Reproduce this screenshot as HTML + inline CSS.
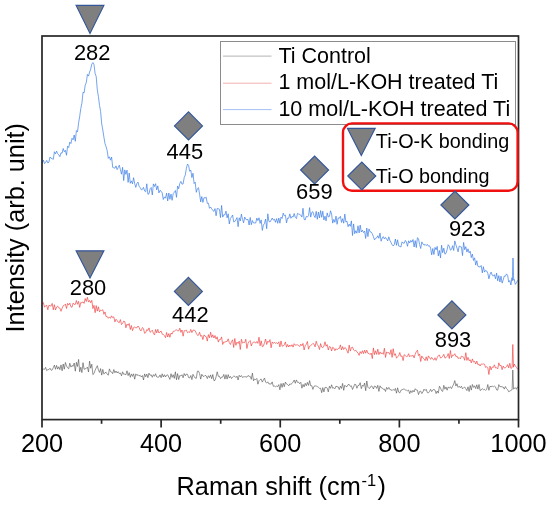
<!DOCTYPE html>
<html><head><meta charset="utf-8"><title>Raman spectra</title>
<style>
html,body{margin:0;padding:0;background:#fff;}
body{width:550px;height:507px;overflow:hidden;}
svg{display:block;font-family:"Liberation Sans",sans-serif;}
</style></head><body>
<svg width="550" height="507" viewBox="0 0 550 507">
<rect width="550" height="507" fill="#fff"/>
<g fill="none" stroke-linejoin="round" stroke-linecap="round">
<path d="M42.3,370.1 L43.4,369.1 L44.5,369.4 L45.6,367.4 L46.7,370.7 L47.8,369.7 L48.9,369.6 L50.0,368.2 L51.1,370.3 L52.2,369.9 L53.3,367.7 L54.4,365.1 L55.5,369.3 L56.6,365.4 L57.7,369.1 L58.8,366.7 L59.9,369.7 L61.0,364.9 L62.1,370.8 L63.2,364.0 L64.3,369.2 L65.4,362.5 L66.5,366.0 L67.6,367.9 L68.7,368.8 L69.8,363.2 L70.9,367.1 L72.0,365.4 L73.1,366.4 L74.2,363.0 L75.3,371.2 L76.4,362.3 L77.5,366.5 L78.6,359.4 L79.7,371.8 L80.8,367.2 L81.9,372.6 L83.0,362.7 L84.1,369.3 L85.2,368.8 L86.3,368.4 L87.4,367.1 L88.5,372.0 L89.6,361.2 L90.7,368.2 L91.8,364.2 L92.9,374.6 L94.0,373.5 L95.1,370.3 L96.2,367.9 L97.3,365.7 L98.4,369.9 L99.5,372.4 L100.6,368.6 L101.7,375.1 L102.8,369.4 L103.9,374.1 L105.0,372.7 L106.1,372.3 L107.2,374.2 L108.3,375.2 L109.4,368.9 L110.5,371.6 L111.6,372.0 L112.7,373.7 L113.8,369.5 L114.9,372.8 L116.0,371.0 L117.1,373.0 L118.2,371.7 L119.3,373.6 L120.4,373.0 L121.5,375.8 L122.6,371.8 L123.7,374.3 L124.8,374.1 L125.9,374.7 L127.0,370.8 L128.1,375.6 L129.2,372.6 L130.3,377.3 L131.4,373.9 L132.5,376.4 L133.6,373.8 L134.7,379.2 L135.8,373.9 L136.9,375.5 L138.0,374.6 L139.1,375.9 L140.2,375.4 L141.3,377.0 L142.4,375.5 L143.5,380.0 L144.6,373.9 L145.7,376.8 L146.8,374.0 L147.9,377.7 L149.0,373.2 L150.1,375.3 L151.2,374.8 L152.3,377.3 L153.4,374.6 L154.5,376.3 L155.6,373.7 L156.7,376.9 L157.8,377.2 L158.9,377.1 L160.0,374.9 L161.1,377.7 L162.2,373.8 L163.3,377.0 L164.4,374.7 L165.5,377.0 L166.6,375.1 L167.7,374.8 L168.8,377.1 L169.9,379.4 L171.0,373.7 L172.1,377.4 L173.2,374.7 L174.3,378.4 L175.4,371.8 L176.5,379.8 L177.6,373.6 L178.7,379.5 L179.8,375.5 L180.9,376.0 L182.0,374.7 L183.1,377.8 L184.2,373.5 L185.3,375.8 L186.4,374.0 L187.5,374.3 L188.6,377.6 L189.7,378.0 L190.8,375.5 L191.9,379.6 L193.0,374.3 L194.1,376.4 L195.2,378.1 L196.3,378.3 L197.4,371.2 L198.5,371.1 L199.6,373.6 L200.7,379.1 L201.8,374.3 L202.9,376.1 L204.0,376.5 L205.1,375.3 L206.2,375.9 L207.3,378.6 L208.4,375.7 L209.5,377.7 L210.6,374.9 L211.7,378.8 L212.8,374.5 L213.9,380.6 L215.0,380.4 L216.1,376.8 L217.2,371.8 L218.3,376.3 L219.4,376.2 L220.5,378.7 L221.6,377.0 L222.7,377.1 L223.8,374.4 L224.9,379.1 L226.0,374.7 L227.1,379.1 L228.2,374.6 L229.3,378.0 L230.4,376.4 L231.5,378.5 L232.6,377.0 L233.7,376.1 L234.8,376.3 L235.9,377.5 L237.0,376.1 L238.1,380.0 L239.2,375.3 L240.3,376.9 L241.4,375.5 L242.5,377.5 L243.6,376.8 L244.7,376.7 L245.8,376.8 L246.9,377.2 L248.0,375.5 L249.1,376.3 L250.2,376.3 L251.3,379.3 L252.4,373.1 L253.5,380.8 L254.6,379.0 L255.7,379.6 L256.8,378.4 L257.9,384.2 L259.0,380.7 L260.1,379.6 L261.2,379.1 L262.3,382.1 L263.4,380.0 L264.5,378.0 L265.6,382.2 L266.7,383.0 L267.8,381.8 L268.9,383.9 L270.0,383.9 L271.1,384.1 L272.2,381.9 L273.3,386.3 L274.4,386.0 L275.5,386.7 L276.6,386.0 L277.7,386.6 L278.8,384.6 L279.9,389.8 L281.0,383.5 L282.1,387.4 L283.2,383.2 L284.3,386.7 L285.4,382.1 L286.5,384.0 L287.6,384.6 L288.7,385.8 L289.8,383.9 L290.9,384.4 L292.0,383.5 L293.1,382.0 L294.2,380.0 L295.3,383.3 L296.4,379.9 L297.5,382.4 L298.6,382.1 L299.7,383.7 L300.8,382.3 L301.9,388.2 L303.0,384.4 L304.1,386.9 L305.2,383.3 L306.3,385.8 L307.4,382.4 L308.5,385.4 L309.6,380.6 L310.7,385.8 L311.8,385.7 L312.9,389.4 L314.0,386.3 L315.1,385.9 L316.2,386.0 L317.3,386.6 L318.4,387.3 L319.5,388.3 L320.6,388.2 L321.7,392.7 L322.8,387.6 L323.9,391.9 L325.0,387.4 L326.1,387.3 L327.2,388.1 L328.3,391.9 L329.4,386.2 L330.5,388.3 L331.6,384.8 L332.7,388.3 L333.8,387.7 L334.9,388.8 L336.0,386.1 L337.1,386.8 L338.2,386.8 L339.3,389.6 L340.4,386.1 L341.5,388.5 L342.6,383.4 L343.7,390.3 L344.8,385.2 L345.9,386.5 L347.0,386.6 L348.1,384.6 L349.2,384.4 L350.3,386.4 L351.4,385.8 L352.5,389.5 L353.6,387.1 L354.7,384.2 L355.8,384.6 L356.9,388.3 L358.0,385.5 L359.1,385.3 L360.2,382.7 L361.3,388.7 L362.4,385.2 L363.5,386.3 L364.6,383.0 L365.7,390.7 L366.8,381.0 L367.9,387.2 L369.0,388.4 L370.1,387.9 L371.2,385.9 L372.3,386.5 L373.4,389.0 L374.5,386.0 L375.6,386.4 L376.7,388.4 L377.8,385.3 L378.9,391.4 L380.0,385.8 L381.1,387.8 L382.2,387.9 L383.3,389.3 L384.4,389.0 L385.5,391.5 L386.6,387.4 L387.7,389.3 L388.8,387.4 L389.9,389.6 L391.0,389.7 L392.1,390.6 L393.2,389.4 L394.3,390.5 L395.4,388.4 L396.5,393.2 L397.6,387.8 L398.7,392.2 L399.8,392.9 L400.9,390.2 L402.0,389.9 L403.1,389.1 L404.2,389.0 L405.3,389.9 L406.4,390.2 L407.5,390.8 L408.6,390.0 L409.7,393.6 L410.8,390.7 L411.9,392.6 L413.0,390.3 L414.1,392.0 L415.2,388.7 L416.3,390.1 L417.4,390.2 L418.5,394.6 L419.6,391.5 L420.7,391.1 L421.8,393.6 L422.9,392.0 L424.0,389.2 L425.1,390.5 L426.2,389.3 L427.3,392.5 L428.4,392.9 L429.5,391.5 L430.6,389.3 L431.7,391.6 L432.8,389.9 L433.9,389.4 L435.0,390.1 L436.1,393.6 L437.2,391.0 L438.3,393.1 L439.4,386.2 L440.5,388.0 L441.6,390.7 L442.7,391.4 L443.8,385.3 L444.9,389.2 L446.0,386.9 L447.1,390.2 L448.2,387.0 L449.3,388.1 L450.4,386.7 L451.5,388.6 L452.6,386.3 L453.7,384.1 L454.8,380.6 L455.9,386.1 L457.0,383.7 L458.1,387.4 L459.2,386.2 L460.3,387.7 L461.4,386.2 L462.5,388.8 L463.6,387.7 L464.7,387.0 L465.8,388.7 L466.9,390.6 L468.0,386.8 L469.1,391.5 L470.2,385.5 L471.3,390.1 L472.4,384.5 L473.5,387.4 L474.6,385.8 L475.7,388.6 L476.8,384.8 L477.9,389.1 L479.0,384.5 L480.1,390.5 L481.2,389.9 L482.3,388.7 L483.4,389.7 L484.5,389.3 L485.6,390.4 L486.7,389.3 L487.8,384.5 L488.9,390.3 L490.0,386.3 L491.1,386.8 L492.2,385.9 L493.3,387.0 L494.4,386.1 L495.5,386.9 L496.6,389.9 L497.7,390.2 L498.8,384.6 L499.9,386.7 L501.0,386.5 L502.1,386.9 L503.2,387.0 L504.3,389.1 L505.4,386.5 L506.5,388.6 L507.6,389.6 L508.7,391.8 L509.8,391.1 L510.9,390.4 L512.1,389.7 L512.8,370.0 L513.5,389.2 L514.2,388.5 L515.3,387.6 L516.4,389.3 L517.5,387.0" stroke="#4d4d4d" stroke-width="0.6"/>
<path d="M42.3,303.5 L43.4,302.6 L44.5,307.2 L45.6,305.8 L46.7,305.3 L47.8,309.7 L48.9,305.3 L50.0,305.8 L51.1,306.1 L52.2,303.4 L53.3,309.8 L54.4,304.7 L55.5,310.0 L56.6,307.1 L57.7,306.1 L58.8,307.8 L59.9,308.1 L61.0,311.3 L62.1,308.2 L63.2,305.8 L64.3,305.3 L65.4,304.1 L66.5,308.5 L67.6,303.4 L68.7,305.1 L69.8,303.1 L70.9,306.8 L72.0,307.3 L73.1,303.1 L74.2,304.4 L75.3,304.4 L76.4,300.5 L77.5,304.3 L78.6,301.4 L79.7,307.4 L80.8,302.4 L81.9,302.9 L83.0,301.8 L84.1,303.4 L85.2,298.5 L86.3,301.5 L87.4,297.3 L88.5,302.1 L89.6,300.4 L90.7,302.8 L91.8,300.3 L92.9,308.6 L94.0,305.3 L95.1,312.7 L96.2,305.6 L97.3,311.1 L98.4,306.8 L99.5,311.8 L100.6,310.1 L101.7,310.5 L102.8,309.7 L103.9,314.3 L105.0,311.9 L106.1,316.6 L107.2,316.5 L108.3,318.3 L109.4,316.9 L110.5,318.3 L111.6,315.8 L112.7,317.7 L113.8,316.8 L114.9,321.9 L116.0,319.2 L117.1,320.5 L118.2,322.2 L119.3,322.6 L120.4,319.6 L121.5,324.6 L122.6,323.4 L123.7,321.1 L124.8,321.6 L125.9,327.8 L127.0,324.1 L128.1,325.4 L129.2,323.5 L130.3,329.5 L131.4,325.5 L132.5,330.7 L133.6,327.5 L134.7,327.0 L135.8,327.8 L136.9,327.8 L138.0,326.0 L139.1,327.4 L140.2,330.4 L141.3,330.6 L142.4,327.5 L143.5,328.6 L144.6,333.3 L145.7,332.7 L146.8,329.5 L147.9,330.5 L149.0,327.9 L150.1,332.3 L151.2,331.5 L152.3,330.2 L153.4,333.3 L154.5,334.9 L155.6,329.5 L156.7,332.9 L157.8,329.3 L158.9,333.0 L160.0,331.9 L161.1,331.0 L162.2,334.2 L163.3,334.5 L164.4,335.5 L165.5,337.7 L166.6,332.5 L167.7,337.0 L168.8,333.6 L169.9,337.3 L171.0,333.0 L172.1,334.1 L173.2,331.3 L174.3,331.2 L175.4,330.4 L176.5,329.7 L177.6,331.0 L178.7,330.8 L179.8,328.2 L180.9,332.4 L182.0,330.0 L183.1,336.2 L184.2,330.7 L185.3,330.7 L186.4,330.1 L187.5,332.7 L188.6,332.0 L189.7,332.4 L190.8,329.4 L191.9,332.6 L193.0,330.1 L194.1,330.2 L195.2,330.7 L196.3,333.4 L197.4,335.3 L198.5,335.2 L199.6,332.2 L200.7,336.3 L201.8,335.5 L202.9,339.6 L204.0,334.9 L205.1,336.2 L206.2,336.6 L207.3,341.1 L208.4,334.6 L209.5,337.8 L210.6,332.2 L211.7,337.4 L212.8,334.8 L213.9,338.0 L215.0,335.5 L216.1,339.1 L217.2,336.8 L218.3,342.1 L219.4,339.5 L220.5,339.5 L221.6,336.9 L222.7,344.5 L223.8,341.9 L224.9,342.3 L226.0,341.4 L227.1,341.5 L228.2,338.8 L229.3,342.7 L230.4,344.5 L231.5,341.6 L232.6,339.8 L233.7,347.5 L234.8,338.5 L235.9,345.3 L237.0,342.1 L238.1,343.5 L239.2,341.2 L240.3,349.5 L241.4,339.3 L242.5,343.1 L243.6,342.4 L244.7,342.6 L245.8,339.2 L246.9,348.5 L248.0,343.4 L249.1,341.6 L250.2,340.5 L251.3,346.0 L252.4,343.2 L253.5,342.0 L254.6,341.9 L255.7,343.2 L256.8,341.5 L257.9,343.4 L259.0,337.2 L260.1,345.8 L261.2,340.8 L262.3,346.8 L263.4,346.2 L264.5,342.7 L265.6,339.0 L266.7,344.5 L267.8,341.1 L268.9,342.4 L270.0,339.6 L271.1,347.8 L272.2,341.9 L273.3,343.4 L274.4,342.2 L275.5,343.4 L276.6,342.7 L277.7,343.8 L278.8,341.8 L279.9,346.9 L281.0,340.9 L282.1,346.1 L283.2,346.1 L284.3,344.8 L285.4,341.9 L286.5,347.2 L287.6,344.5 L288.7,347.0 L289.8,345.0 L290.9,346.4 L292.0,344.7 L293.1,347.1 L294.2,343.7 L295.3,345.2 L296.4,344.9 L297.5,344.8 L298.6,345.4 L299.7,346.5 L300.8,344.1 L301.9,345.8 L303.0,343.4 L304.1,350.0 L305.2,345.8 L306.3,344.3 L307.4,341.4 L308.5,349.2 L309.6,346.2 L310.7,345.6 L311.8,344.7 L312.9,343.4 L314.0,344.1 L315.1,346.9 L316.2,341.2 L317.3,344.6 L318.4,346.1 L319.5,349.5 L320.6,343.6 L321.7,347.0 L322.8,347.7 L323.9,346.1 L325.0,341.8 L326.1,346.2 L327.2,344.6 L328.3,350.0 L329.4,346.5 L330.5,347.0 L331.6,351.0 L332.7,347.2 L333.8,348.0 L334.9,350.7 L336.0,348.6 L337.1,349.8 L338.2,348.6 L339.3,348.4 L340.4,344.9 L341.5,350.0 L342.6,346.6 L343.7,349.5 L344.8,347.5 L345.9,348.3 L347.0,350.8 L348.1,353.2 L349.2,345.1 L350.3,351.1 L351.4,347.6 L352.5,347.1 L353.6,350.0 L354.7,350.9 L355.8,350.2 L356.9,351.9 L358.0,352.9 L359.1,355.4 L360.2,351.6 L361.3,353.6 L362.4,350.7 L363.5,353.7 L364.6,350.1 L365.7,353.2 L366.8,350.1 L367.9,353.3 L369.0,353.4 L370.1,354.6 L371.2,353.0 L372.3,358.6 L373.4,347.9 L374.5,354.6 L375.6,350.8 L376.7,354.4 L377.8,349.1 L378.9,354.7 L380.0,351.9 L381.1,353.8 L382.2,352.8 L383.3,354.3 L384.4,348.2 L385.5,357.4 L386.6,351.9 L387.7,353.0 L388.8,352.5 L389.9,354.5 L391.0,349.7 L392.1,357.4 L393.2,348.7 L394.3,355.4 L395.4,353.7 L396.5,358.2 L397.6,356.6 L398.7,355.8 L399.8,352.5 L400.9,356.4 L402.0,355.9 L403.1,360.6 L404.2,354.6 L405.3,355.6 L406.4,356.6 L407.5,356.3 L408.6,353.7 L409.7,356.8 L410.8,355.5 L411.9,356.2 L413.0,355.2 L414.1,357.9 L415.2,354.1 L416.3,351.7 L417.4,350.2 L418.5,355.6 L419.6,354.0 L420.7,361.5 L421.8,355.9 L422.9,357.9 L424.0,358.7 L425.1,360.6 L426.2,356.8 L427.3,360.6 L428.4,355.9 L429.5,357.4 L430.6,359.3 L431.7,357.4 L432.8,359.2 L433.9,360.1 L435.0,357.7 L436.1,360.4 L437.2,357.7 L438.3,355.5 L439.4,355.0 L440.5,358.0 L441.6,357.6 L442.7,356.3 L443.8,354.3 L444.9,358.0 L446.0,357.7 L447.1,356.3 L448.2,353.6 L449.3,358.5 L450.4,350.5 L451.5,357.6 L452.6,355.0 L453.7,355.4 L454.8,353.7 L455.9,356.6 L457.0,356.0 L458.1,358.5 L459.2,357.6 L460.3,358.9 L461.4,356.1 L462.5,356.6 L463.6,357.0 L464.7,360.3 L465.8,352.7 L466.9,360.4 L468.0,357.3 L469.1,360.7 L470.2,359.7 L471.3,362.9 L472.4,358.9 L473.5,362.1 L474.6,361.3 L475.7,364.0 L476.8,361.1 L477.9,364.7 L479.0,364.1 L480.1,366.0 L481.2,364.0 L482.3,364.1 L483.4,363.9 L484.5,364.2 L485.6,367.5 L486.7,366.7 L487.8,367.6 L488.9,374.5 L490.0,366.1 L491.1,369.9 L492.2,367.0 L493.3,367.4 L494.4,364.8 L495.5,368.0 L496.6,367.7 L497.7,368.9 L498.8,362.8 L499.9,365.8 L501.0,365.2 L502.1,369.7 L503.2,366.0 L504.3,368.0 L505.4,367.8 L506.5,366.7 L507.6,364.6 L508.7,367.9 L509.8,363.3 L510.9,368.4 L512.1,367.7 L512.8,344.5 L513.5,367.2 L514.2,364.0 L515.3,365.8 L516.4,367.3 L517.5,369.0" stroke="#f03a3a" stroke-width="0.65"/>
<path d="M42.3,162.9 L43.4,160.0 L44.5,163.7 L45.6,162.4 L46.7,160.4 L47.8,162.9 L48.9,162.2 L50.0,157.0 L51.1,158.2 L52.2,158.7 L53.3,159.3 L54.4,151.7 L55.5,153.9 L56.6,151.1 L57.7,153.7 L58.8,154.8 L59.9,156.7 L61.0,152.8 L62.1,153.2 L63.2,148.5 L64.3,151.8 L65.4,150.3 L66.5,155.3 L67.6,146.2 L68.7,147.6 L69.8,142.1 L70.9,143.6 L72.0,138.3 L73.1,139.8 L74.2,135.0 L75.3,141.3 L76.4,130.6 L77.5,131.9 L78.6,122.9 L79.7,116.3 L80.8,108.5 L81.9,103.2 L83.0,92.3 L84.1,92.9 L85.2,85.2 L86.3,82.5 L87.4,74.4 L88.5,76.1 L89.6,72.0 L90.7,69.2 L91.8,64.1 L92.9,62.6 L94.0,64.6 L95.1,73.5 L96.2,76.5 L97.3,89.8 L98.4,96.4 L99.5,105.4 L100.6,111.3 L101.7,123.9 L102.8,129.9 L103.9,137.1 L105.0,143.6 L106.1,146.7 L107.2,150.8 L108.3,158.4 L109.4,156.8 L110.5,160.2 L111.6,157.0 L112.7,167.4 L113.8,167.8 L114.9,168.2 L116.0,165.9 L117.1,169.6 L118.2,167.6 L119.3,165.2 L120.4,169.6 L121.5,174.2 L122.6,167.3 L123.7,180.6 L124.8,169.9 L125.9,174.4 L127.0,170.1 L128.1,182.4 L129.2,173.0 L130.3,183.3 L131.4,180.9 L132.5,183.9 L133.6,177.7 L134.7,183.8 L135.8,187.4 L136.9,183.4 L138.0,182.1 L139.1,186.4 L140.2,187.4 L141.3,189.8 L142.4,189.4 L143.5,187.3 L144.6,191.0 L145.7,191.8 L146.8,183.8 L147.9,194.3 L149.0,193.8 L150.1,188.8 L151.2,187.5 L152.3,195.0 L153.4,183.9 L154.5,186.5 L155.6,183.7 L156.7,189.9 L157.8,185.9 L158.9,192.9 L160.0,190.3 L161.1,191.2 L162.2,192.9 L163.3,199.5 L164.4,196.9 L165.5,198.2 L166.6,193.1 L167.7,200.9 L168.8,193.0 L169.9,199.3 L171.0,194.1 L172.1,200.3 L173.2,193.7 L174.3,192.3 L175.4,190.5 L176.5,197.3 L177.6,186.0 L178.7,188.7 L179.8,183.5 L180.9,181.4 L182.0,184.2 L183.1,183.9 L184.2,177.6 L185.3,175.0 L186.4,168.2 L187.5,164.0 L188.6,165.5 L189.7,171.3 L190.8,170.1 L191.9,177.6 L193.0,173.2 L194.1,183.6 L195.2,182.2 L196.3,192.3 L197.4,188.7 L198.5,187.7 L199.6,194.3 L200.7,201.9 L201.8,196.6 L202.9,202.4 L204.0,197.6 L205.1,198.0 L206.2,197.2 L207.3,203.4 L208.4,203.2 L209.5,208.3 L210.6,207.0 L211.7,208.8 L212.8,210.5 L213.9,211.3 L215.0,208.6 L216.1,215.8 L217.2,208.5 L218.3,208.7 L219.4,209.2 L220.5,217.6 L221.6,205.4 L222.7,217.1 L223.8,214.7 L224.9,214.9 L226.0,211.1 L227.1,217.9 L228.2,213.8 L229.3,224.0 L230.4,218.4 L231.5,217.0 L232.6,215.0 L233.7,221.9 L234.8,221.6 L235.9,219.7 L237.0,217.6 L238.1,226.7 L239.2,217.8 L240.3,220.9 L241.4,214.2 L242.5,219.4 L243.6,222.8 L244.7,217.0 L245.8,219.3 L246.9,219.8 L248.0,219.3 L249.1,225.0 L250.2,217.5 L251.3,224.7 L252.4,220.5 L253.5,223.0 L254.6,223.0 L255.7,223.0 L256.8,218.1 L257.9,220.6 L259.0,217.8 L260.1,223.4 L261.2,219.9 L262.3,230.4 L263.4,225.1 L264.5,223.4 L265.6,219.0 L266.7,228.7 L267.8,213.8 L268.9,221.4 L270.0,222.0 L271.1,220.2 L272.2,218.0 L273.3,220.1 L274.4,219.1 L275.5,222.3 L276.6,218.6 L277.7,223.3 L278.8,218.0 L279.9,223.2 L281.0,217.1 L282.1,218.5 L283.2,213.1 L284.3,215.8 L285.4,215.1 L286.5,222.9 L287.6,218.1 L288.7,218.3 L289.8,213.9 L290.9,218.3 L292.0,216.4 L293.1,217.1 L294.2,213.5 L295.3,217.4 L296.4,218.6 L297.5,213.4 L298.6,214.0 L299.7,214.5 L300.8,215.1 L301.9,217.1 L303.0,208.3 L304.1,219.4 L305.2,220.0 L306.3,216.3 L307.4,217.0 L308.5,215.7 L309.6,207.6 L310.7,217.1 L311.8,212.4 L312.9,211.7 L314.0,215.6 L315.1,217.6 L316.2,211.3 L317.3,219.3 L318.4,212.1 L319.5,218.0 L320.6,210.6 L321.7,217.3 L322.8,211.2 L323.9,220.0 L325.0,216.2 L326.1,220.9 L327.2,212.9 L328.3,217.0 L329.4,216.5 L330.5,210.8 L331.6,214.1 L332.7,223.1 L333.8,219.4 L334.9,222.3 L336.0,216.1 L337.1,224.3 L338.2,217.9 L339.3,218.3 L340.4,216.3 L341.5,222.4 L342.6,218.7 L343.7,223.2 L344.8,214.1 L345.9,222.0 L347.0,221.3 L348.1,226.7 L349.2,224.1 L350.3,226.3 L351.4,220.9 L352.5,235.5 L353.6,223.9 L354.7,233.7 L355.8,230.7 L356.9,233.2 L358.0,225.8 L359.1,232.9 L360.2,225.1 L361.3,232.0 L362.4,230.2 L363.5,232.5 L364.6,231.1 L365.7,238.4 L366.8,228.1 L367.9,236.6 L369.0,228.9 L370.1,231.8 L371.2,232.1 L372.3,233.8 L373.4,236.6 L374.5,239.9 L375.6,238.3 L376.7,237.9 L377.8,235.7 L378.9,238.3 L380.0,233.0 L381.1,241.2 L382.2,238.0 L383.3,236.6 L384.4,239.0 L385.5,237.4 L386.6,239.0 L387.7,240.9 L388.8,236.8 L389.9,240.5 L391.0,242.4 L392.1,244.7 L393.2,246.0 L394.3,244.6 L395.4,239.0 L396.5,245.3 L397.6,239.8 L398.7,246.1 L399.8,246.4 L400.9,247.0 L402.0,241.9 L403.1,243.0 L404.2,243.3 L405.3,240.4 L406.4,242.0 L407.5,246.3 L408.6,240.8 L409.7,243.0 L410.8,240.4 L411.9,242.2 L413.0,239.5 L414.1,247.0 L415.2,240.6 L416.3,247.6 L417.4,237.7 L418.5,238.7 L419.6,244.6 L420.7,248.5 L421.8,241.9 L422.9,243.9 L424.0,245.2 L425.1,244.3 L426.2,245.6 L427.3,244.4 L428.4,246.1 L429.5,245.8 L430.6,248.1 L431.7,254.9 L432.8,248.5 L433.9,254.5 L435.0,247.4 L436.1,249.8 L437.2,246.4 L438.3,255.9 L439.4,250.5 L440.5,257.9 L441.6,245.2 L442.7,252.7 L443.8,248.2 L444.9,254.2 L446.0,253.3 L447.1,249.7 L448.2,244.7 L449.3,246.2 L450.4,250.2 L451.5,249.4 L452.6,245.7 L453.7,250.5 L454.8,240.9 L455.9,244.8 L457.0,248.1 L458.1,251.8 L459.2,246.0 L460.3,246.7 L461.4,246.9 L462.5,255.6 L463.6,242.4 L464.7,249.7 L465.8,246.7 L466.9,252.1 L468.0,248.8 L469.1,252.9 L470.2,251.2 L471.3,257.6 L472.4,254.1 L473.5,260.5 L474.6,257.8 L475.7,265.1 L476.8,260.7 L477.9,266.3 L479.0,266.8 L480.1,266.9 L481.2,265.5 L482.3,272.9 L483.4,266.7 L484.5,272.1 L485.6,270.4 L486.7,271.0 L487.8,273.2 L488.9,278.8 L490.0,274.3 L491.1,272.1 L492.2,275.0 L493.3,276.2 L494.4,274.6 L495.5,278.8 L496.6,273.1 L497.7,280.8 L498.8,275.6 L499.9,282.0 L501.0,276.2 L502.1,283.1 L503.2,279.9 L504.3,276.0 L505.4,276.2 L506.5,273.9 L507.6,275.2 L508.7,282.1 L509.8,280.5 L510.9,285.0 L512.0,277.7 L512.3,280.7 L513.0,258.0 L513.7,280.2 L514.2,279.4 L515.3,284.4 L516.4,282.7 L517.5,280.7" stroke="#3b7de6" stroke-width="0.7"/>
</g>
<rect x="220.5" y="41.5" width="295" height="83" fill="#fff" stroke="#8c8c8c" stroke-width="1"/>
<rect x="223" y="55.6" width="48.5" height="1" fill="#b4b4b4"/>
<rect x="223" y="82.7" width="48.5" height="1" fill="#f6b0b0"/>
<rect x="223" y="109.1" width="48.5" height="1" fill="#a2c0f4"/>
<g font-size="21.5px" fill="#000">
<text x="278.4" y="62.6">Ti Control</text>
<text x="278.4" y="89.1">1 mol/L-KOH treated Ti</text>
<text x="278.4" y="115.7">10 mol/L-KOH treated Ti</text>
</g>
<g fill="none" stroke="#262626" stroke-width="1.7">
<rect x="42.0" y="36" width="476.5" height="383.6"/>
<line x1="42.00" y1="419.6" x2="42.00" y2="427.5"/><line x1="101.56" y1="419.6" x2="101.56" y2="423.8"/><line x1="161.12" y1="419.6" x2="161.12" y2="427.5"/><line x1="220.69" y1="419.6" x2="220.69" y2="423.8"/><line x1="280.25" y1="419.6" x2="280.25" y2="427.5"/><line x1="339.81" y1="419.6" x2="339.81" y2="423.8"/><line x1="399.38" y1="419.6" x2="399.38" y2="427.5"/><line x1="458.94" y1="419.6" x2="458.94" y2="423.8"/><line x1="518.50" y1="419.6" x2="518.50" y2="427.5"/>
</g>
<rect x="343" y="123.4" width="174.6" height="67.3" rx="9" ry="9" fill="none" stroke="#f01010" stroke-width="2.4"/>
<g fill="#7f7f7f" stroke="#34579a" stroke-width="1.15" stroke-linejoin="miter">
<path d="M76.1,5.4 L103.9,5.4 L90,33.4 Z"/><path d="M76.1,250.8 L103.9,250.8 L90,278.1 Z"/><path d="M347.40000000000003,128.3 L375.2,128.3 L361.3,155.6 Z"/><path d="M174.5,125.9 L188.5,111.9 L202.5,125.9 L188.5,139.9 Z"/><path d="M300.6,170 L314.6,156.0 L328.6,170 L314.6,184.0 Z"/><path d="M440.9,205 L454.9,191.0 L468.9,205 L454.9,219.0 Z"/><path d="M174.4,291.4 L188.4,277.4 L202.4,291.4 L188.4,305.4 Z"/><path d="M437.9,314.9 L451.9,300.9 L465.9,314.9 L451.9,328.9 Z"/><path d="M347.8,176 L361.8,162.0 L375.8,176 L361.8,190.0 Z"/>
</g>
<g font-size="19.8px" fill="#000">
<text x="375.8" y="147.5">Ti-O-K bonding</text>
<text x="375.8" y="183.4">Ti-O bonding</text>
</g>
<g font-size="21.9px" fill="#000"><text x="92.2" y="59.7" text-anchor="middle">282</text><text x="184.8" y="158.7" text-anchor="middle">445</text><text x="314.3" y="199.2" text-anchor="middle">659</text><text x="467.2" y="236.4" text-anchor="middle">923</text><text x="88" y="294.7" text-anchor="middle">280</text><text x="190.3" y="321.8" text-anchor="middle">442</text><text x="453" y="347.3" text-anchor="middle">893</text></g>
<g font-size="25.3px" fill="#000"><text x="42.0" y="452" text-anchor="middle">200</text><text x="161.1" y="452" text-anchor="middle">400</text><text x="280.2" y="452" text-anchor="middle">600</text><text x="399.4" y="452" text-anchor="middle">800</text><text x="518.5" y="452" text-anchor="middle">1000</text>
<text x="176.6" y="494.5">Raman shift (cm<tspan font-size="16.5px" dy="-8.5" dx="0.8">-1</tspan><tspan dy="8.5" dx="1.2">)</tspan></text>
<text transform="translate(24,332.5) rotate(-90)">Intensity (arb. unit)</text>
</g>
</svg>
</body></html>
